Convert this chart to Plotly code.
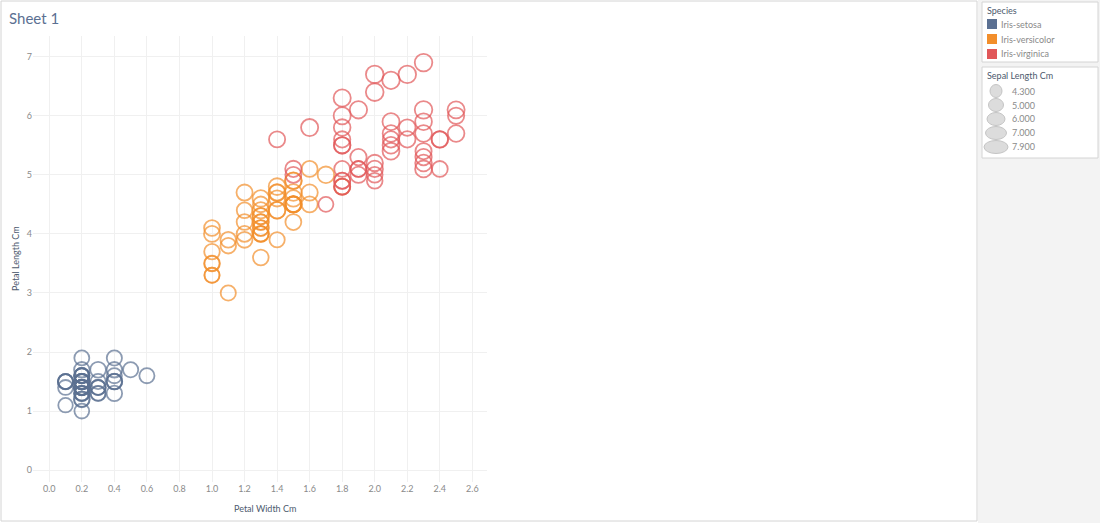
import plotly.graph_objects as go

species = ["Iris-setosa", "Iris-versicolor", "Iris-virginica"]
colors = ["#5b7092", "#f28e2b", "#e15759"]

setosa_sl = [5.1,4.9,4.7,4.6,5.0,5.4,4.6,5.0,4.4,4.9,5.4,4.8,4.8,4.3,5.8,5.7,5.4,5.1,5.7,5.1,5.4,5.1,4.6,5.1,4.8,5.0,5.0,5.2,5.2,4.7,4.8,5.4,5.2,5.5,4.9,5.0,5.5,4.9,4.4,5.1,5.0,4.5,4.4,5.0,5.1,4.8,5.1,4.6,5.3,5.0]
setosa_pl = [1.4,1.4,1.3,1.5,1.4,1.7,1.4,1.5,1.4,1.5,1.5,1.6,1.4,1.1,1.2,1.5,1.3,1.4,1.7,1.5,1.7,1.5,1.0,1.7,1.9,1.6,1.6,1.5,1.4,1.6,1.6,1.5,1.5,1.4,1.5,1.2,1.3,1.5,1.3,1.5,1.3,1.3,1.3,1.6,1.9,1.4,1.6,1.4,1.5,1.4]
setosa_pw = [0.2,0.2,0.2,0.2,0.2,0.4,0.3,0.2,0.2,0.1,0.2,0.2,0.1,0.1,0.2,0.4,0.4,0.3,0.3,0.3,0.2,0.4,0.2,0.5,0.2,0.2,0.4,0.2,0.2,0.2,0.2,0.4,0.1,0.2,0.1,0.2,0.2,0.1,0.2,0.2,0.3,0.3,0.2,0.6,0.4,0.3,0.2,0.2,0.2,0.2]

versi_sl = [7.0,6.4,6.9,5.5,6.5,5.7,6.3,4.9,6.6,5.2,5.0,5.9,6.0,6.1,5.6,6.7,5.6,5.8,6.2,5.6,5.9,6.1,6.3,6.1,6.4,6.6,6.8,6.7,6.0,5.7,5.5,5.5,5.8,6.0,5.4,6.0,6.7,6.3,5.6,5.5,5.5,6.1,5.8,5.0,5.6,5.7,5.7,6.2,5.1,5.7]
versi_pl = [4.7,4.5,4.9,4.0,4.6,4.5,4.7,3.3,4.6,3.9,3.5,4.2,4.0,4.7,3.6,4.4,4.5,4.1,4.5,3.9,4.8,4.0,4.9,4.7,4.3,4.4,4.8,5.0,4.5,3.5,3.8,3.7,3.9,5.1,4.5,4.5,4.7,4.4,4.1,4.0,4.4,4.6,4.0,3.3,4.2,4.2,4.2,4.3,3.0,4.1]
versi_pw = [1.4,1.5,1.5,1.3,1.5,1.3,1.6,1.0,1.3,1.4,1.0,1.5,1.0,1.4,1.3,1.4,1.5,1.0,1.5,1.1,1.8,1.3,1.5,1.2,1.3,1.4,1.4,1.7,1.5,1.0,1.1,1.0,1.2,1.6,1.5,1.6,1.5,1.3,1.3,1.3,1.2,1.4,1.2,1.0,1.3,1.2,1.3,1.3,1.1,1.3]

virg_sl = [6.3,5.8,7.1,6.3,6.5,7.6,4.9,7.3,6.7,7.2,6.5,6.4,6.8,5.7,5.8,6.4,6.5,7.7,7.7,6.0,6.9,5.6,7.7,6.3,6.7,7.2,6.2,6.1,6.4,7.2,7.4,7.9,6.4,6.3,6.1,7.7,6.3,6.4,6.0,6.9,6.7,6.9,5.8,6.8,6.7,6.7,6.3,6.5,6.2,5.9]
virg_pl = [6.0,5.1,5.9,5.6,5.8,6.6,4.5,6.3,5.8,6.1,5.1,5.3,5.5,5.0,5.1,5.3,5.5,6.7,6.9,5.0,5.7,4.9,6.7,4.9,5.7,6.0,4.8,4.9,5.6,5.8,6.1,6.4,5.6,5.1,5.6,6.1,5.6,5.5,4.8,5.4,5.6,5.1,5.1,5.9,5.7,5.2,5.0,5.2,5.4,5.1]
virg_pw = [2.5,1.9,2.1,1.8,2.2,2.1,1.7,1.8,1.8,2.5,2.0,1.9,2.1,2.0,2.4,2.3,1.8,2.2,2.3,1.5,2.3,2.0,2.0,1.8,2.1,1.8,1.8,1.8,2.1,1.6,1.9,2.0,2.2,1.5,1.4,2.3,2.4,1.8,1.8,2.1,2.4,2.3,1.9,2.3,2.5,2.3,1.9,2.0,2.3,1.8]

size_legend = [4.3, 5.0, 6.0, 7.0, 7.9]
x_ticks = [0.0,0.2,0.4,0.6,0.8,1.0,1.2,1.4,1.6,1.8,2.0,2.2,2.4,2.6]
y_ticks = [0,1,2,3,4,5,6,7]

W, H = 1100, 523
def px(x): return x / W
def py(y): return 1 - y / H
def msize(sl): return 14.5 + (sl - 4.3) * 0.9

data = [(setosa_pw, setosa_pl, setosa_sl), (versi_pw, versi_pl, versi_sl), (virg_pw, virg_pl, virg_sl)]
fig = go.Figure()
for (xs, ys, ss), name, c in zip(data, species, colors):
    fig.add_trace(go.Scatter(x=xs, y=ys, mode="markers", name=name, showlegend=False,
        marker=dict(symbol="circle-open", size=[msize(s) for s in ss], color=c, line=dict(width=1.8, color=c))))

grey = "#8a8a8a"
fig.update_layout(
    width=W, height=H, margin=dict(l=0, r=0, t=0, b=0, autoexpand=False),
    paper_bgcolor="white", plot_bgcolor="white",
    font=dict(family="Lato, Noto Sans, sans-serif", size=9, color=grey),
    xaxis=dict(domain=[px(33), px(487)], range=[-0.1, 2.69], tickvals=x_ticks, automargin=False,
               ticktext=[f"{v:.1f}" for v in x_ticks], showgrid=True, gridcolor="#f0f0f0",
               zeroline=False, showline=False, ticks="", tickfont=dict(size=9, color=grey)),
    yaxis=dict(domain=[py(482), py(36)], range=[-0.2, 7.35], tickvals=y_ticks, automargin=False,
               showgrid=True, gridcolor="#f0f0f0", zeroline=False, showline=False, ticks="",
               tickfont=dict(size=9, color=grey)),
    shapes=[
        dict(type="rect", xref="paper", yref="paper", x0=px(978), x1=1, y0=0, y1=1,
             fillcolor="#f3f3f3", line=dict(width=0), layer="below"),
        dict(type="rect", xref="paper", yref="paper", x0=px(1), x1=px(977), y0=py(521), y1=py(1),
             line=dict(color="#d4d4d4", width=1)),
        dict(type="rect", xref="paper", yref="paper", x0=px(982), x1=px(1098), y0=py(62), y1=py(2),
             fillcolor="white", line=dict(color="#d4d4d4", width=1)),
        dict(type="rect", xref="paper", yref="paper", x0=px(982), x1=px(1098), y0=py(158), y1=py(67),
             fillcolor="white", line=dict(color="#d4d4d4", width=1)),
    ],
)
ann = []
def note(text, x, y, xa="left", size=9, color=grey, **kw):
    ann.append(dict(text=text, x=px(x), y=py(y), xref="paper", yref="paper", showarrow=False,
                    xanchor=xa, yanchor="middle", font=dict(size=size, color=color), **kw))

note("Sheet 1", 7, 18, size=15, color="#5b7092")
note("Petal Width Cm", 265, 508, xa="center", color="#4d5a6e")
note("Petal Length Cm", 15, 259, xa="center", color="#4d5a6e", textangle=-90)
note("Species", 985, 10, color="#4d5a6e")
for i, (name, c) in enumerate(zip(species, colors)):
    yy = 24 + i * 15
    fig.add_shape(type="rect", xref="paper", yref="paper", x0=px(987), x1=px(997), y0=py(yy + 5), y1=py(yy - 5),
                  fillcolor=c, line=dict(width=0))
    note(name, 999, yy)
note("Sepal Length Cm", 985, 75, color="#4d5a6e")
for i, v in enumerate(size_legend):
    yy = 91 + i * 14
    w = 6 + i * 1.5
    fig.add_shape(type="circle", xref="paper", yref="paper", x0=px(996 - w), x1=px(996 + w),
                  y0=py(yy + 6.5), y1=py(yy - 6.5), fillcolor="#dcdcdc", line=dict(color="#c4c4c4", width=1))
    note(f"{v:.3f}", 1010, yy)
fig.update_layout(annotations=ann)
fig.write_html("out.html", config={"displayModeBar": False})
with open("out.html", encoding="utf-8") as f:
    html = f.read()
html = html.replace("<body>", '<body style="margin:0;overflow:hidden">', 1)
with open("out.html", "w", encoding="utf-8") as f:
    f.write(html)
